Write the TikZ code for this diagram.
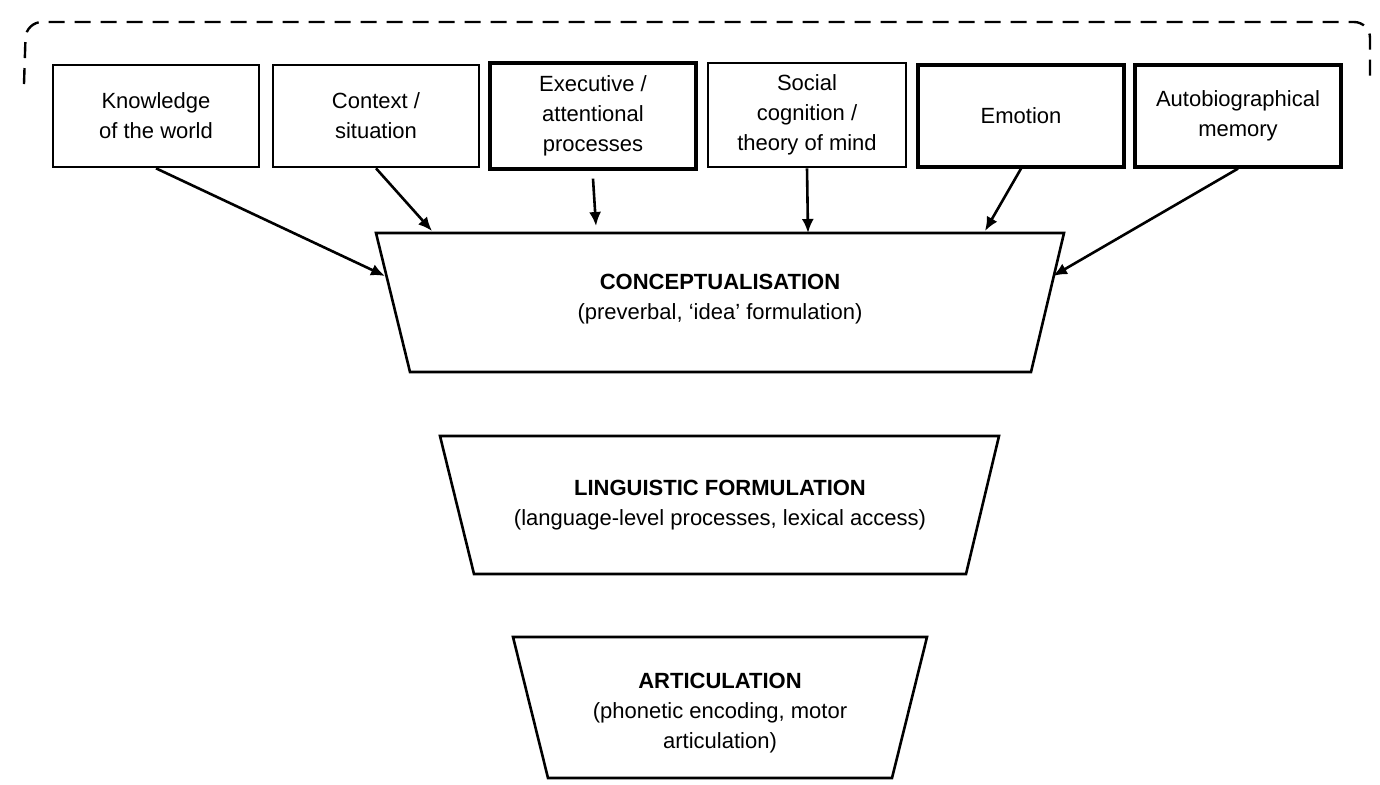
\documentclass[tikz,border=0pt]{standalone}
\usepackage{fontspec}
\setmainfont{Liberation Sans}
\usetikzlibrary{arrows.meta}
\begin{document}
\begin{tikzpicture}[x=0.5pt,y=-0.5pt,
 box/.style={draw,line width=1.3pt,minimum width=103pt,minimum height=51pt,align=center,font=\fontsize{11}{15}\selectfont,inner sep=1pt},
 lbl/.style={align=center,font=\fontsize{11}{15}\selectfont},
 arr/.style={line width=1.3pt,-{Latex[length=7pt,width=6pt]}},
 trap/.style={line width=1.3pt}]
\useasboundingbox (0,0) rectangle (1380,784);
\draw[dashed,line width=1.2pt,dash pattern=on 8pt off 5pt,rounded corners=8pt] (24,84) -- (26,22) -- (1370,22) -- (1370,80);
\node[box] (b1) at (156,116) {Knowledge\\of the world};
\node[box] (b2) at (376,116) {Context /\\situation};
\node[box,minimum height=53pt,line width=1.6pt] (b3) at (593,116) {Executive /\\attentional\\processes};
\node[box,minimum width=99pt,minimum height=52pt] (b4) at (807,115) {Social\\cognition /\\theory of mind};
\node[box,line width=1.6pt] (b5) at (1021,116) {Emotion};
\node[box,line width=1.6pt] (b6) at (1238,116) {Autobiographical\\memory};
\draw[trap] (376,233) -- (1064,233) -- (1031,372) -- (410,372) -- cycle;
\draw[trap] (440,436) -- (999,436) -- (966,574) -- (474,574) -- cycle;
\draw[trap] (513,637) -- (927,637) -- (892,778) -- (548,778) -- cycle;
\node[lbl] (c) at (720,299) {\textbf{CONCEPTUALISATION}\\(preverbal, ‘idea’ formulation)};
\node[lbl] (l) at (720,505) {\textbf{LINGUISTIC FORMULATION}\\(language-level processes, lexical access)};
\node[lbl] (a) at (720,713) {\textbf{ARTICULATION}\\(phonetic encoding, motor\\articulation)};
\coordinate (t1) at (385,276);
\coordinate (t2) at (432,231);
\coordinate (t3) at (596,226);
\coordinate (t4) at (808,233);
\coordinate (t5) at (985,231);
\coordinate (t6) at (1053,276);
\draw[arr] (b1.south) -- (t1);
\draw[arr] (b2.south) -- (t2);
\draw[arr] ([yshift=-4pt]b3.south) -- (t3);
\draw[arr] (b4.south) -- (t4);
\draw[arr] (b5.south) -- (t5);
\draw[arr] (b6.south) -- (t6);
\end{tikzpicture}
\end{document}
